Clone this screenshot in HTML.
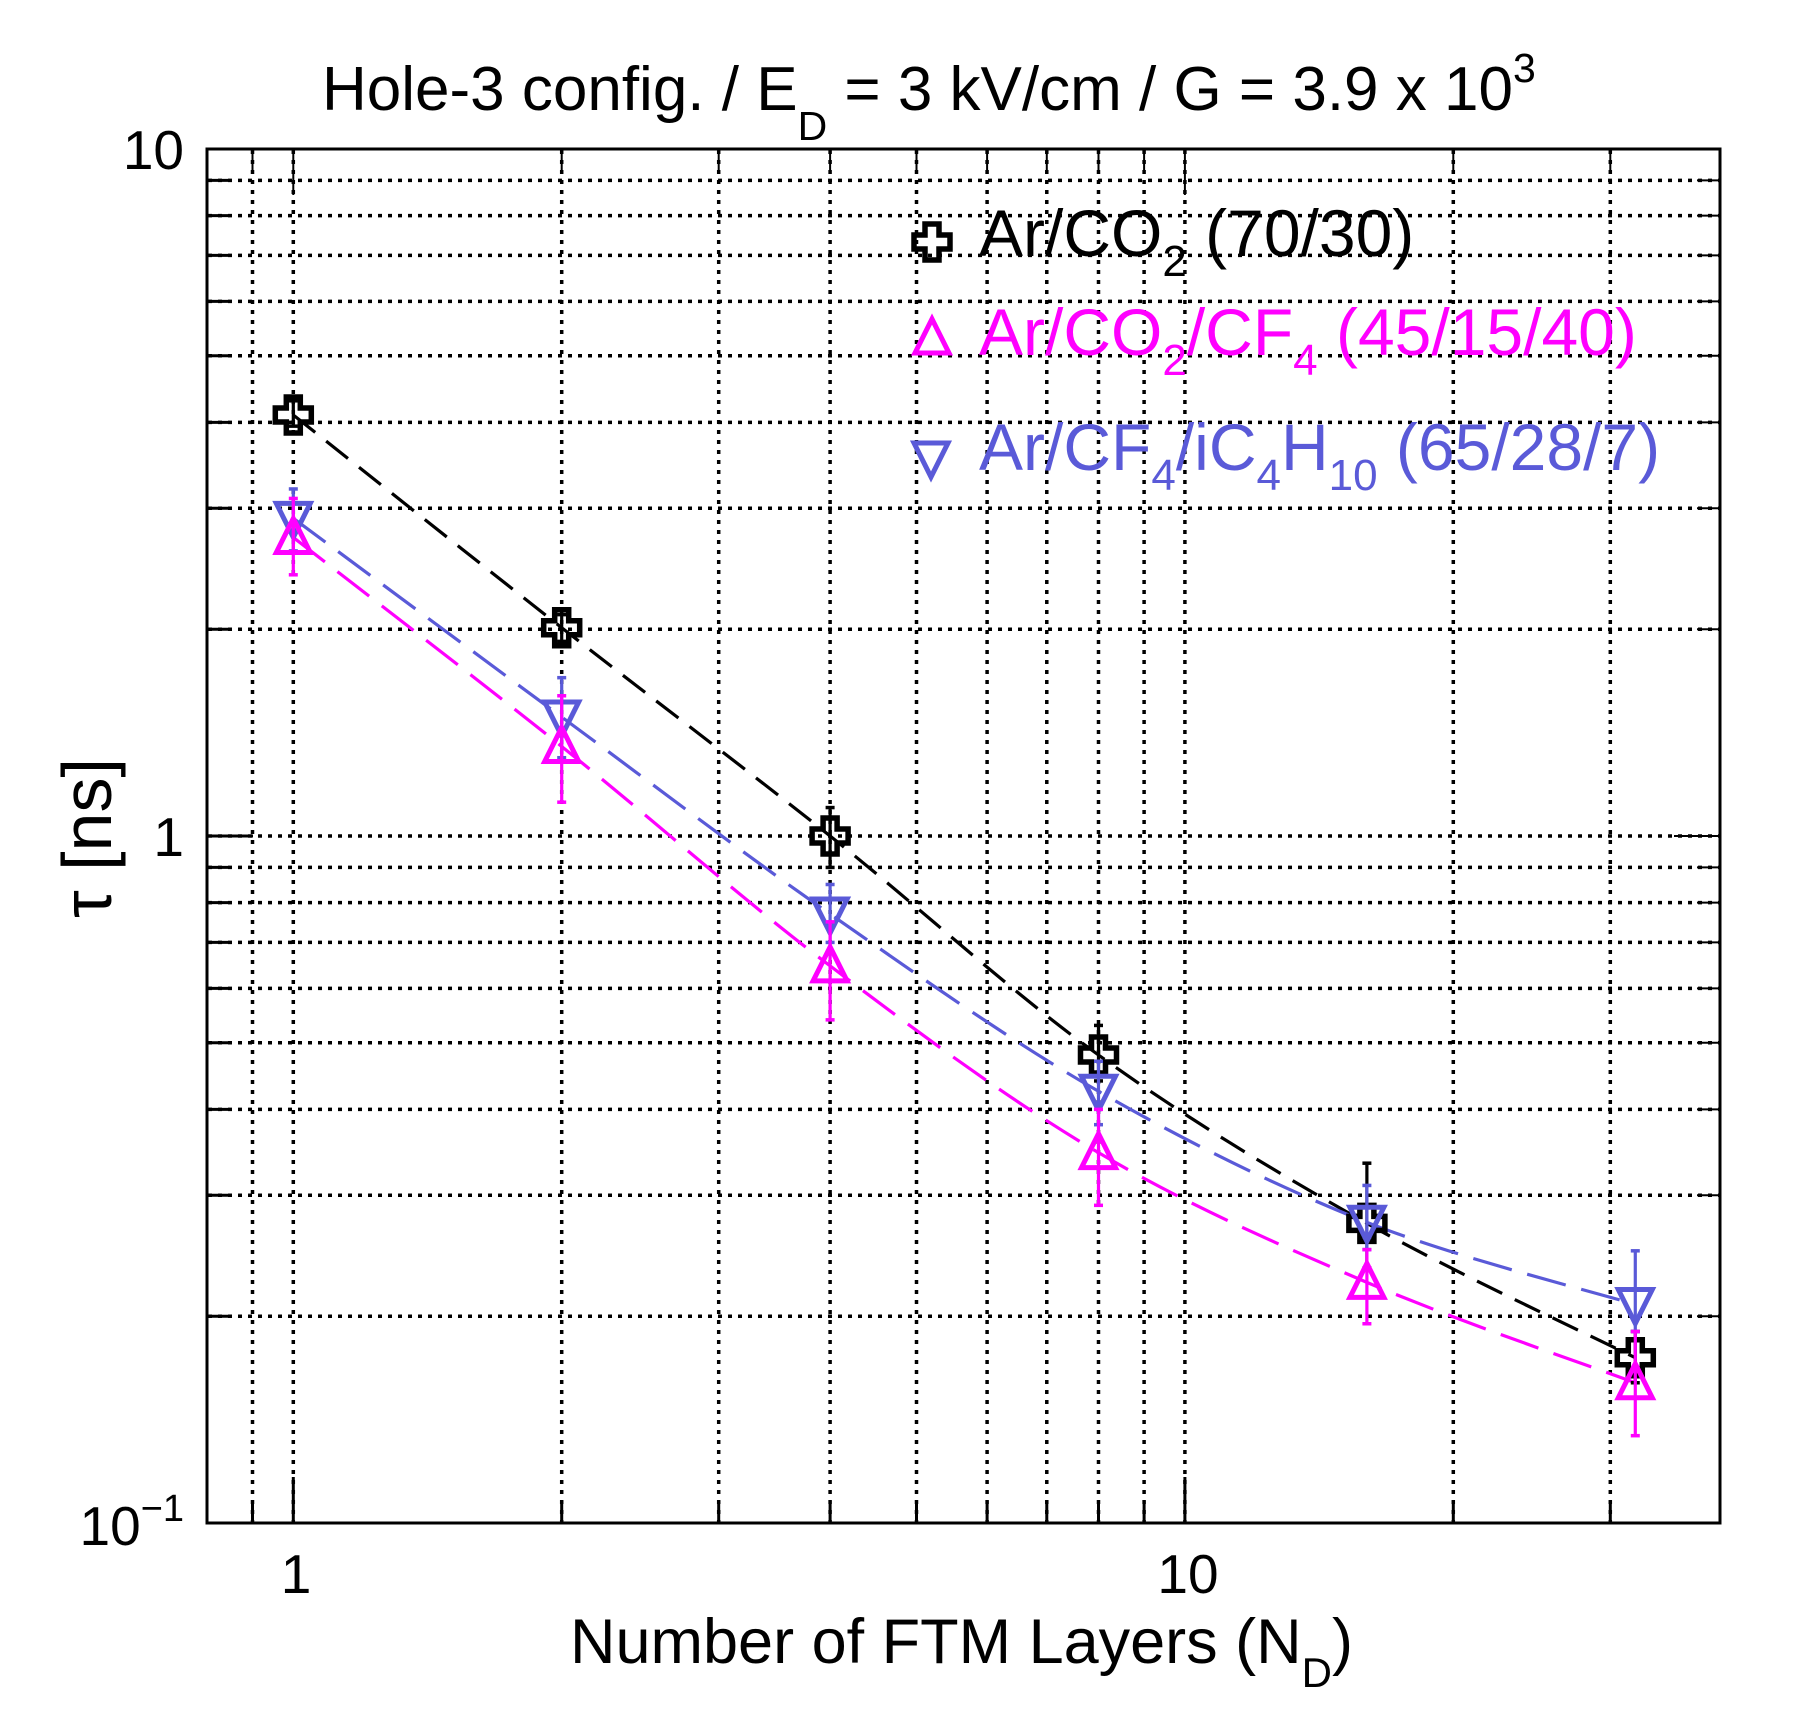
<!DOCTYPE html>
<html><head><meta charset="utf-8"><style>
html,body{margin:0;padding:0;background:#fff;}
svg{display:block;font-family:"Liberation Sans",Arial,sans-serif;}
</style></head><body>
<svg id="s" width="1799" height="1715" viewBox="0 0 1799 1715" xmlns="http://www.w3.org/2000/svg">
<rect width="1799" height="1715" fill="#fff"/>
<g id="grid"></g>
<g id="data"></g>
<rect x="207" y="149" width="1513" height="1374" fill="none" stroke="#000" stroke-width="3"/>
<text x="322" y="110" font-size="62">Hole-3 config. / E<tspan font-size="41" dy="30">D</tspan><tspan dy="-30"> = 3 kV/cm / G = 3.9 x 10</tspan><tspan font-size="41" dy="-28">3</tspan></text>
<text x="184" y="169" font-size="55" text-anchor="end">10</text>
<text x="184" y="856" font-size="55" text-anchor="end">1</text>
<text x="184" y="1545" font-size="55" text-anchor="end">10<tspan font-size="38" dy="-24">−1</tspan></text>
<text x="296" y="1593" font-size="55" text-anchor="middle">1</text>
<text x="1188" y="1593" font-size="55" text-anchor="middle">10</text>
<text x="570" y="1663" font-size="63">Number of FTM Layers (N<tspan font-size="42" dy="24">D</tspan><tspan dy="-24">)</tspan></text>
<text transform="translate(111,918) rotate(-90)" font-size="70">τ [ns]</text>
<g font-size="66">
<text x="979" y="256" fill="#000">Ar/CO<tspan font-size="44" dy="20">2</tspan><tspan dy="-20"> (70/30)</tspan></text>
<text x="979" y="355" fill="#ff00ff">Ar/CO<tspan font-size="44" dy="20">2</tspan><tspan dy="-20">/CF</tspan><tspan font-size="44" dy="20">4</tspan><tspan dy="-20"> (45/15/40)</tspan></text>
<text x="979" y="470" fill="#5a5ad8">Ar/CF<tspan font-size="44" dy="20">4</tspan><tspan dy="-20">/iC</tspan><tspan font-size="44" dy="20">4</tspan><tspan dy="-20">H</tspan><tspan font-size="44" dy="20">10</tspan><tspan dy="-20"> (65/28/7)</tspan></text>
</g>
<g id="leg"></g>
</svg>
<script>
var NS="http://www.w3.org/2000/svg";
function el(p,t,a){var e=document.createElementNS(NS,t);for(var k in a)e.setAttribute(k,a[k]);p.appendChild(e);return e;}
function X(v){return 293.3+891.6*Math.log10(v);}
function Y(v){return 836-687*Math.log10(v);}
var g=document.getElementById('grid');
var xs=[0.9,1,2,3,4,5,6,7,8,9,10,20,30];
xs.forEach(function(v){var x=X(v);
 el(g,'line',{x1:x,y1:150,x2:x,y2:1522,stroke:'#000','stroke-width':3.5,'stroke-dasharray':'4 6'});
 var L=(v==1||v==10)?46:22;
 el(g,'line',{x1:x,y1:1523,x2:x,y2:1523-L,stroke:'#000','stroke-width':3});
 el(g,'line',{x1:x,y1:149,x2:x,y2:149+L,stroke:'#000','stroke-width':2});
});
var ys=[0.2,0.3,0.4,0.5,0.6,0.7,0.8,0.9,1,2,3,4,5,6,7,8,9];
ys.forEach(function(v){var y=Y(v);
 el(g,'line',{x1:208,y1:y,x2:1719,y2:y,stroke:'#000','stroke-width':3.5,'stroke-dasharray':'4 6'});
 var L=(v==1)?46:23;
 el(g,'line',{x1:207,y1:y,x2:207+L,y2:y,stroke:'#000','stroke-width':3});
 el(g,'line',{x1:1720,y1:y,x2:1720-L,y2:y,stroke:'#000','stroke-width':2});
});
var d=document.getElementById('data');
var xv=[1,2,4,8,16,32];
var S=[
 {c:'#000',m:'cross',y:[4.1,2.01,1.0,0.48,0.273,0.174],lo:[3.95,1.92,0.9,0.44,0.235,0.16],hi:[4.3,2.1,1.1,0.53,0.334,0.19],dash:'28 14'},
 {c:'#5a5ad8',m:'down',y:[2.9,1.49,0.77,0.425,0.274,0.208],lo:[2.6,1.3,0.7,0.38,0.25,0.19],hi:[3.2,1.7,0.85,0.47,0.31,0.249],dash:'40 16'},
 {c:'#ff00ff',m:'up',y:[2.72,1.35,0.647,0.346,0.224,0.16],lo:[2.4,1.12,0.54,0.29,0.195,0.134],hi:[3.1,1.6,0.75,0.40,0.25,0.19],dash:'40 16'}
];
function smooth(P){var s='M'+P[0][0]+','+P[0][1];
 for(var i=0;i<P.length-1;i++){var p0=P[Math.max(i-1,0)],p1=P[i],p2=P[i+1],p3=P[Math.min(i+2,P.length-1)];
  var c1=[p1[0]+(p2[0]-p0[0])/6,p1[1]+(p2[1]-p0[1])/6],c2=[p2[0]-(p3[0]-p1[0])/6,p2[1]-(p3[1]-p1[1])/6];
  s+=' C'+c1+' '+c2+' '+p2;}
 return s;}
function marker(p,m,x,y,c){
 if(m=='cross'){var a=7,b=18;
  el(p,'polygon',{points:[[x-a,y-b],[x+a,y-b],[x+a,y-a],[x+b,y-a],[x+b,y+a],[x+a,y+a],[x+a,y+b],[x-a,y+b],[x-a,y+a],[x-b,y+a],[x-b,y-a],[x-a,y-a]].join(' '),fill:'none',stroke:c,'stroke-width':5.5});}
 else if(m=='up'){el(p,'polygon',{points:[[x,y-19],[x+17,y+15],[x-17,y+15]].join(' '),fill:'none',stroke:c,'stroke-width':5});}
 else {el(p,'polygon',{points:[[x,y+19],[x+17,y-15],[x-17,y-15]].join(' '),fill:'none',stroke:c,'stroke-width':5});}
}
S.forEach(function(s){
 var P=xv.map(function(v,i){return [X(v),Y(s.y[i])];});
 el(d,'path',{d:smooth(P),fill:'none',stroke:s.c,'stroke-width':3.2,'stroke-dasharray':s.dash});
});
S.forEach(function(s){
 xv.forEach(function(v,i){var x=X(v);
  el(d,'line',{x1:x,y1:Y(s.lo[i]),x2:x,y2:Y(s.hi[i]),stroke:s.c,'stroke-width':3.2});
  el(d,'line',{x1:x-4.5,y1:Y(s.lo[i]),x2:x+4.5,y2:Y(s.lo[i]),stroke:s.c,'stroke-width':3.5});
  el(d,'line',{x1:x-4.5,y1:Y(s.hi[i]),x2:x+4.5,y2:Y(s.hi[i]),stroke:s.c,'stroke-width':3.5});
  marker(d,s.m,x,Y(s.y[i]),s.c);
 });
});
var lg=document.getElementById('leg');
marker(lg,'cross',932,242,'#000');
marker(lg,'up',932,338,'#ff00ff');
marker(lg,'down',931,458,'#5a5ad8');
</script>
</body></html>
